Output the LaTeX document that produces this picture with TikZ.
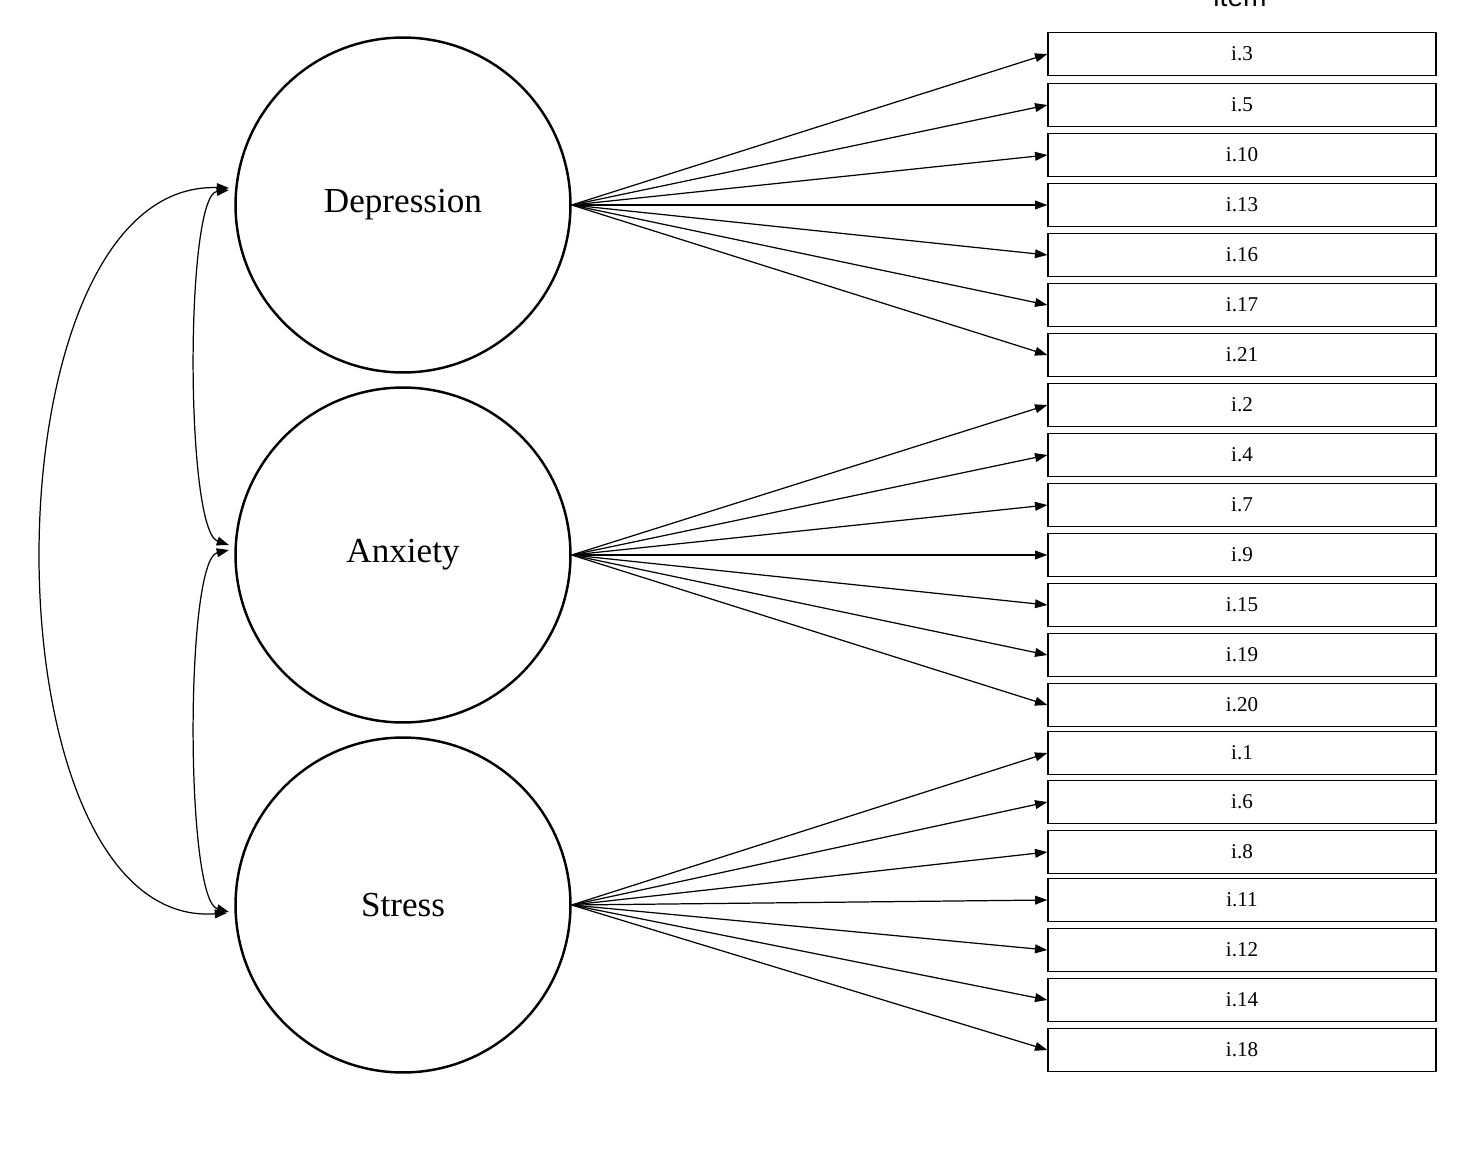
\documentclass[tikz,border=0pt]{standalone}
\usepackage{fontspec}
\setmainfont{Liberation Serif}
\newfontfamily\sansf{Liberation Sans}
\usetikzlibrary{arrows.meta}
\begin{document}
\begin{tikzpicture}[x=0.02cm,y=-0.02cm,
  lat/.style={circle,draw,line width=1.4pt,minimum size=6.7cm,inner sep=0pt,font=\fontsize{20}{24}\selectfont},
  item/.style={draw,line width=0.8pt,minimum width=7.76cm,minimum height=0.86cm,inner sep=0pt,font=\fontsize{12}{14}\selectfont},
  arr/.style={-{Triangle[length=7pt,width=5pt]},line width=0.7pt},
  cov/.style={{Triangle[length=7pt,width=5pt]}-{Triangle[length=7pt,width=5pt]},line width=0.7pt}]
\useasboundingbox (0,0) rectangle (1471,1160);
\clip (0,0) rectangle (1471,1160);
\node[font=\sansf\fontsize{16}{18}\selectfont] (title) at (1240,-4) {item};
\node[lat] (D) at (403,205) {Depression};
\node[lat] (A) at (403,555) {Anxiety};
\node[lat] (S) at (403,905) {Stress};
\foreach \n/\y in {3/54,5/105,10/155,13/205,16/255,17/305,21/355}{
  \node[item] (b\n) at (1242,\y) {i.\n};
  \draw[arr] (D.east) -- (b\n.west);}
\foreach \n/\y in {2/405,4/455,7/505,9/555,15/605,19/655,20/705}{
  \node[item] (b\n) at (1242,\y) {i.\n};
  \draw[arr] (A.east) -- (b\n.west);}
\foreach \n/\y in {1/753,6/802,8/852,11/900,12/950,14/1000,18/1050}{
  \node[item] (b\n) at (1242,\y) {i.\n};
  \draw[arr] (S.east) -- (b\n.west);}
\coordinate (d1) at (229,190);
\coordinate (d2) at (229,188);
\coordinate (a1) at (229,545);
\coordinate (a2) at (229,550);
\coordinate (s1) at (229,912);
\coordinate (s2) at (227,913);
\draw[cov] (d1) .. controls (185,195) and (185,530) .. (a1);
\draw[cov] (a2) .. controls (185,560) and (185,900) .. (s1);
\draw[cov] (d2) .. controls (-20,180) and (-20,930) .. (s2);
\end{tikzpicture}
\end{document}
